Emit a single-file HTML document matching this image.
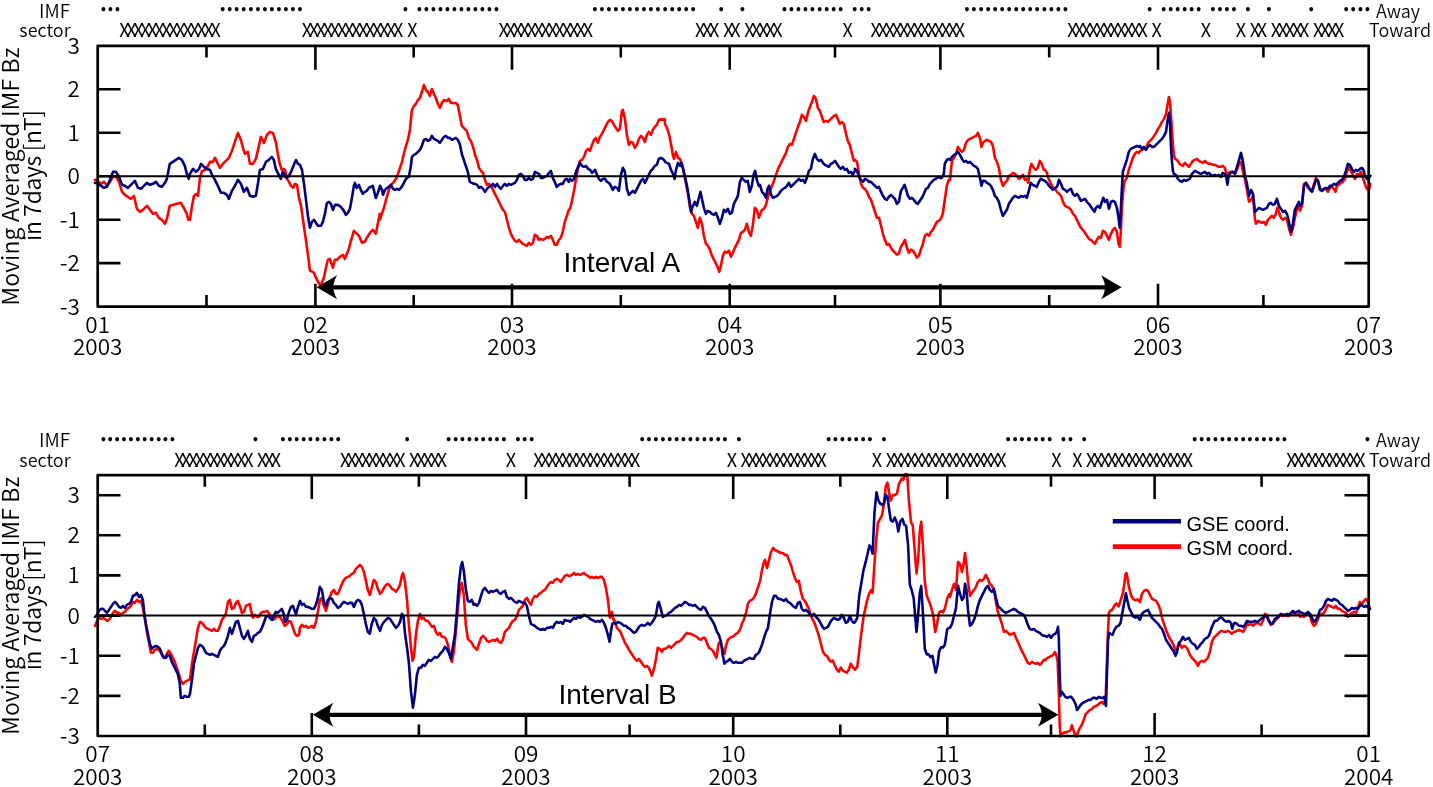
<!DOCTYPE html>
<html><head><meta charset="utf-8"><title>IMF Bz</title>
<style>html,body{margin:0;padding:0;background:#fff;width:1433px;height:787px;overflow:hidden}svg{display:block}</style>
</head><body>
<svg width="1433" height="787" viewBox="0 0 1433 787">
<rect width="1433" height="787" fill="#fff"/>
<path d="M95,179.8 98,180.8 101,183.8 104,181.8 107,185.8 110,181.8 113,176.8 116,176.8 119,181.8 122,191.8 124.9,194.8 127.9,196.8 130.9,198.8 133.9,195.8 136.9,208.8 139.9,211.8 142.9,209.8 146.9,205.8 149.9,209.8 152.9,213.8 155.9,212.8 158.9,217.8 161.9,219.8 164.9,223.8 166.9,218.8 169.8,205.8 173.8,204.8 176.8,203.8 180.8,202.8 183.8,207.8 186.8,213.8 188.4,219.8 190,219.8 192,205.8 194,195.8 196,193.8 198,195.8 200,177.8 202,170.9 205,169.9 208,165.9 210,161.9 212.9,161.9 214.9,157.9 216.9,161.9 219.9,167.9 222.9,163.9 225.9,160.9 228.9,157.9 231.9,150.9 234.9,141.9 237.9,132.9 240.9,139.9 242.9,147.9 244.9,153.9 247.9,151.9 249.9,163.9 252.9,163.9 255.9,158.9 258.9,145.9 260.9,136.9 263.9,142.9 266.9,134.9 269.8,131.9 272.8,132.9 275.8,141.9 277.8,153.9 279.8,163.9 281.8,169.9 283.8,168.9 285,169.9 287,178.9 289,181.9 291,185.9 293,187.9 295,183.9 297,184.9 299,197.9 301,205.9 303,219.8 305,233.8 307,247.8 308.9,261.8 309.9,270.7 311.9,271.7 313.9,272.7 315.9,277.7 317.9,281.7 319.9,284.7 321.9,282.7 323.9,277.7 325.9,267.7 327.9,259.8 329.9,258.8 331.9,264.8 332.9,267.7 334.9,259.8 336.9,259.8 339.9,256.8 342.9,254.8 344.9,258.8 346.9,253.8 348.9,248.8 350.9,240.8 353.9,230.8 355.9,232.8 358.9,235.8 361.9,242.8 364.8,241.8 366.8,237.8 368.8,234.8 370.8,231.8 372.8,229.8 375.8,233.8 377.8,223.8 379.8,213.8 380,219.7 382,213.7 384,207.7 386,199.8 388,192.8 390,185.8 392,183.8 394,181.8 396,178.8 398,173.8 400,167.8 402,161.8 403.9,153.8 405.9,145.9 407.9,139.9 409.9,129.9 411.9,109.9 413.9,106 415.9,104 417.9,100 419.9,98 421.9,92 423.9,85 425.9,90 427.9,92 429.9,96 431.9,89 433.9,94 435.9,98 437.9,104 439.9,107.9 441.9,103 443.9,100 446.9,101 448.9,99 450.9,103 453.9,103 455.9,103 457.8,105 459.8,114.9 461.8,125.9 463.8,127.9 466.8,130.9 468.8,137.9 470.8,140.9 472.8,145.9 474.8,153.8 475,154.9 477,159.9 479,167.9 481,170.9 483,172.9 485,179.9 487,184.9 489,183.9 491,185.9 493,189.9 495,193.8 497,197.8 498.9,201.8 500.9,205.8 502.9,209.8 504.9,211.8 506.9,219.8 508.9,227.8 510.9,233.8 512.9,237.8 514.9,240.8 516.9,241.8 518.9,239.8 520.9,241.8 522.9,243.8 524.9,244.8 526.9,245.8 528.9,242.8 530.9,244.8 532.9,242.8 534.9,234.8 536.9,235.8 538.9,239.8 540.9,238.8 542.9,239.8 544.9,238.8 546.9,236.8 548.9,237.8 550.9,235.8 552.8,239.8 554.8,244.8 556.8,244.8 558.8,239.8 560.8,237.8 562.8,231.8 564.8,221.8 566.8,215.8 568.8,209.8 570,208.8 572,200.8 574,190.8 576,178.8 578,168.8 580,160.9 582,159.9 584,156.9 586,150.9 588,148.9 590,150.9 592,144.9 594,139.9 596,137.9 597.9,142.9 599.9,136.9 601.9,133.9 603.9,129.9 605.9,125.9 607.9,122 609.9,120 611.9,121 613.9,124.9 615.9,127.9 617.9,130.9 619.9,128.9 621.9,111 622.9,110 624.9,119 626.9,134.9 628.9,144.9 630.9,141.9 632.9,142.9 634.9,147.9 636.9,144.9 638.9,138.9 640.9,135.9 642.9,137.9 644.9,141.9 646.9,134.9 648.8,131.9 650.8,134.9 652.8,129.9 654.8,126.9 656.8,124.9 658.8,120 660.8,119 662.8,120 664.8,119 665,124 667,128 669,134 671,143.9 673,155.9 674,158.9 676,151.9 678,157.9 680,158.9 682,163.9 684,173.9 686,183.9 688,193.8 690,207.8 692,213.8 693.9,215.8 695.9,221.8 697.9,227.8 699.9,217.8 701.9,223.8 703.9,235.8 705.9,243.8 707.9,245.8 709.9,249.7 711.9,255.7 713.9,259.7 715.9,263.7 717.9,267.7 719.3,271.7 720.9,265.7 722.9,255.7 724.9,251.7 726.9,252.7 728.9,250.7 730.9,256.7 732.9,252.7 734.9,247.7 736.9,243.8 738.9,239.8 740.9,232.8 742.8,231.8 744.8,229.8 746.8,223.8 748.8,231.8 750.8,235.8 752.8,225.8 754.8,207.8 756.8,209.8 758.8,217.8 760,214.7 762,209.8 764,208.8 766,204.8 768,196.8 770,190.8 772,185.8 774,180.8 776,174.8 778,168.8 780,164.8 782,160.8 784,156.9 786,152.9 787.9,146.9 789.9,143.9 791.9,144.9 793.9,138.9 795.9,132.9 797.9,126.9 799.9,121.9 801.9,114.9 803.9,116.9 805.9,120.9 807.9,112.9 809.9,107 811.9,102 813.9,96 815.9,99 817.9,108 819.9,111 821.9,116.9 823.9,121.9 825.9,120.9 827.9,121.9 829.9,119.9 831.9,117.9 833.9,115.9 835.9,114.9 837.8,118.9 839.8,123.9 841.8,121.9 843.8,123.9 845.8,132.9 847.8,140.9 849.8,144.9 851.8,152.9 853.8,160.8 855,159.9 857,161.9 859,173.9 861,183.9 863,187.9 865,188.9 867,191.9 869,196.8 871,199.8 873,205.8 875,211.8 877,217.8 879,217.8 881,225.8 882.9,233.8 884.9,239.8 886.9,244.8 888.9,243.8 890.9,247.7 892.9,250.7 894.9,252.7 896.9,254.7 898.9,253.7 900.9,246.8 902.9,243.8 904.9,239.8 906.9,247.7 908.9,252.7 910.9,249.7 912.9,250.7 914.9,253.7 916.9,257.7 918.9,255.7 920.9,249.7 922.9,243.8 924.9,235.8 926.9,233.8 928.9,235.8 930.9,231.8 932.8,229.8 934.8,225.8 936.8,221.8 938.8,220.8 940.8,218.8 942.8,213.8 944.8,199.8 946.8,185.9 948.8,179.9 950,179.9 951,169.9 952,160.9 954,157.9 956,153.9 958,146.9 960,149.9 962,151.9 964,149.9 966,142.9 968,139.9 970,138.9 972,137.9 974,136.9 976,135.9 977.9,132.9 979.9,137.9 981.5,146.9 982.9,142.9 984.9,140.9 986.9,139.9 988.9,140.9 990.9,141.9 992.9,145.9 994.9,157.9 996.9,161.9 998.9,167.9 1000.9,179.9 1002.9,185.8 1004.9,182.8 1006.9,180.9 1008.9,175.9 1010.9,174.9 1012.9,172.9 1014.9,173.9 1016.9,175.9 1018.9,178.9 1020.9,177.9 1022.9,174.9 1024.8,179.9 1026.8,178.9 1028.2,182.8 1029.8,169.9 1031.4,163.9 1033.8,167.9 1035.8,169.9 1037.8,167.9 1039.8,160.9 1041.8,163.9 1043.8,169.9 1045,169.9 1047,172.9 1049,179.9 1051,183.9 1053,187.9 1055,188.9 1057,191.9 1059,193.8 1061,195.8 1063,201.8 1065,205.8 1067,206.8 1069,207.8 1071,209.8 1072.9,213.8 1074.9,215.8 1076.9,219.8 1078.9,223.8 1080.9,227.8 1082.9,229.8 1084.9,232.8 1086.9,235.8 1088.9,238.8 1090.9,239.8 1092.9,241.8 1094.9,243.8 1096.9,239.8 1098.9,236.8 1100.9,237.8 1102.9,230.8 1104.9,231.8 1106.9,235.8 1108.9,239.8 1110.9,233.8 1112.9,229.8 1114.9,227.8 1116.9,231.8 1118.5,243.8 1119.8,246.8 1120.8,231.8 1121.8,209.8 1122.8,195.8 1123.8,185.9 1124.8,180.9 1126.8,177.9 1128.8,169.9 1130.8,163.9 1132.8,157.9 1134.8,153.9 1136.8,151.9 1138.8,152.9 1140,150.9 1142,149.9 1144,148.9 1146,148.9 1148,142.9 1150,140.9 1152,138.9 1154,135.9 1156,132.9 1158,128.9 1160,125.9 1162,121.9 1164,118.9 1166,113.9 1167.5,105 1168.9,97 1169.9,101 1170.9,114.9 1171.9,128.9 1172.9,144.9 1173.9,154.9 1174.9,158.8 1176.9,159.8 1178.9,162.8 1180.9,164.8 1182.9,165.8 1184.9,162.8 1186.9,164.8 1188.9,166.8 1190.9,163.8 1192.9,160.8 1194.9,159.8 1196.9,158.8 1198.9,160.8 1200.9,161.8 1202.9,162.8 1204.9,160.8 1206.9,162.8 1208.9,163.8 1210.9,163.8 1212.8,164.8 1214.8,164.8 1216.8,165.8 1218.8,166.8 1220.8,166.8 1222.8,165.8 1224.8,167.8 1226.8,174.8 1228.8,172.8 1230.8,171.8 1232.8,171.8 1234.8,172.8 1235,173.9 1237,169.9 1239,163.9 1241,161.9 1243,171.9 1245,179.9 1247,189.9 1249,201.8 1251,199.8 1253,195.8 1255,219.8 1256,223.8 1258,220.8 1260,221.8 1262,222.8 1263.9,221.8 1265.9,224.8 1267.9,219.8 1269.9,217.8 1271.9,215.8 1273.9,217.8 1275.9,213.8 1277.3,207.8 1278.9,211.8 1280.9,217.8 1282.9,219.8 1284.9,217.8 1286.9,219.8 1288.9,227.8 1290.9,234.8 1292.9,227.8 1294.9,217.8 1296.9,209.8 1298.9,203.8 1300,210.8 1302,205.8 1304,183.9 1306,182.9 1308,187.9 1310,188.9 1312,190.9 1314,183.9 1316,177.9 1318,180.9 1320,187.9 1322,190.9 1324,188.9 1326,188.9 1327.9,191.9 1329.9,187.9 1331.9,186.9 1333.9,188.9 1335.5,191.9 1336.9,185.9 1338.9,184.9 1340.9,182.9 1342.9,181.9 1344.9,178.9 1346.9,171.9 1348.9,166.9 1350.9,170.9 1352.9,174.9 1354.9,178.9 1356.9,173.9 1358.9,174.9 1360.9,171.9 1362.9,177.9 1364.9,183.9 1366.9,188.9 1368.9,189.9 1370.3,183.9" fill="none" stroke="#ff0000" stroke-width="2.6" stroke-linejoin="round" stroke-linecap="round"/>
<path d="M95,182.8 98,183.8 101,185.8 104,187.8 107,186.8 110,179.8 113,171.9 116,171.9 119,176.8 122,184.8 124.9,185.8 127.9,187.8 130.9,184.8 134.9,180.8 137.9,187.8 140.9,188.8 143.9,185.8 146.9,182.8 149.9,184.8 152.9,183.8 155.9,181.8 158.9,185.8 161.9,186.8 164.9,182.8 166.9,178.8 169.8,163.9 172.8,161.9 175.8,159.9 178.8,157.9 181.8,159.9 184.8,165.9 186.8,173.8 188.8,178.8 190,173.8 193,168.9 196,171.9 199,168.9 201,163.9 204,166.9 207,168.9 210,169.9 212,174.8 214.9,179.8 217.9,185.8 220.9,192.8 223.9,192.8 226.9,194.8 228.9,198.8 231.9,190.8 234.9,185.8 237.9,179.8 240.9,183.8 243.9,191.8 246.9,187.8 249.9,195.8 252.9,196.8 255.9,195.8 257.9,183.8 259.9,169.9 262.9,168.9 265.9,161.9 268.8,159.9 271.8,156.9 273.8,159.9 275.8,168.9 278.8,174.8 280.8,178.8 282.8,171.9 284.8,174.8 285,176.9 287,177.9 289,175.9 291,171.9 293,166.9 295,162 296,160 298,163.9 300,164.9 302,169.9 304,183.9 306,199.9 307.9,215.8 309.9,227.8 311.9,221.8 313.9,219.8 315.9,222.8 317.9,225.8 320.9,225.8 322.9,221.8 324.9,213.8 326.9,202.9 328.9,201.9 330.9,203.9 332.9,209.9 334.9,204.9 337.9,204.9 340.9,206.9 343.9,210.9 345.9,214.8 347.9,212.8 349.9,208.9 351.9,197.9 353.9,185.9 354.9,182.9 356.9,187.9 358.9,184.9 360.9,189.9 362.8,193.9 364.8,191.9 366.8,190.9 368.8,187.9 370.8,186.9 372.8,185.9 374.8,193.9 375.8,197.9 377.8,192.9 379.8,186.9 380,185.8 382,189.8 383,194.8 385,189.8 387,187.8 389,186.8 391,184.8 393,188.8 395,189.8 397,188.8 399,189.8 401,187.8 402.9,184.8 404.9,180.8 406.9,177.8 408.9,176.8 410.9,165.8 411.9,156.8 413.9,154.8 415.9,153.8 417.9,151.9 419.9,149.9 421.9,145.9 423.9,139.9 425.9,138.9 427.9,140.9 429.9,139.9 431.9,135.9 433.9,138.9 435.9,139.9 437.9,140.9 439.9,142.9 441.9,139.9 443.9,136.9 445.9,135.9 447.9,137.9 449.9,137.9 451.9,139.9 453.9,138.9 455.9,137.9 457.8,139.9 459.8,143.9 461.8,153.8 463.8,159.8 465.8,165.8 467.8,171.8 469.8,181.8 471.8,182.8 473.8,183.8 475,183.9 477,184.9 479,187.9 481,186.9 483,188.9 485,191.9 487,188.9 489,186.9 491,185.9 493,183.9 495,186.9 497,183.9 498.9,186.9 500.9,188.9 502.9,185.9 504.9,183.9 506.9,185.9 508.9,183.9 510.9,184.9 512.9,183.9 514.9,182.9 516.9,179.9 518.9,174.9 520.9,173.9 522.9,175.9 524.9,179.9 526.9,179.9 528.9,177.9 530.9,179.9 532.9,178.9 534.9,171.9 536.9,172.9 538.9,173.9 540.9,177.9 542.9,177.9 544.9,176.9 546.9,175.9 548.9,172.9 550.9,170.9 552.8,177.9 554.8,181.9 556.8,186.9 558.8,184.9 560.8,183.9 562.8,183.9 564.8,179.9 566.8,178.9 568.8,181.9 570,178.8 572,180.8 574,178.8 576,171.8 578,166.9 580,162.9 582,165.9 584,166.9 586,165.9 588,168.8 590,169.8 592,172.8 594,170.8 595,169.8 597,174.8 598.9,178.8 600.9,180.8 602.9,178.8 604.9,178.8 606.9,181.8 608.9,182.8 610.9,185.8 612.9,189.8 614.9,186.8 616.9,187.8 618.9,190.8 620.9,174.8 622.9,167.8 624.9,171.8 626.9,188.8 628.9,194.8 630.9,192.8 632.9,190.8 634.9,192.8 636.9,188.8 638.9,184.8 640.9,180.8 642.9,178.8 644.9,182.8 646.9,178.8 648.8,174.8 650.8,170.8 652.8,168.8 654.8,165.9 656.8,164.9 658.8,158.9 660.8,157.9 662.8,158.9 664.8,160.9 665,161.9 667,162.9 669,163.9 671,169.9 673,173.9 674.6,178.9 676,169.9 678,162.9 680,165.9 681,162.9 683,167.9 685,176.9 687,185.9 689,197.8 691,211.8 692.9,205.8 694.9,201.8 696.9,205.8 698.9,197.8 700.5,191.9 701.9,198.8 703.9,207.8 705.9,213.8 707.9,210.8 709.9,211.8 711.9,213.8 713.9,214.8 715.9,212.8 717.9,217.8 719.9,223.8 721.9,217.8 723.9,209.8 725.9,211.8 727.9,208.8 729.9,213.8 731.9,212.8 733.9,203.8 735.9,199.8 737.9,195.8 739.9,181.9 741.9,177.9 743.8,179.9 745.8,181.9 747.8,180.9 749.8,191.9 751.8,185.9 753.8,173.9 755.2,170.9 756.8,179.9 758.8,185.9 760,184.8 762,191.8 764,193.8 766,197.8 767.6,188.8 769,185.8 771,194.8 773,197.8 775,196.8 777,195.8 779,193.8 781,190.8 783,188.8 785,187.8 787,185.8 788.9,182.8 790.9,186.8 792.9,184.8 794.9,182.8 796.9,180.8 798.9,178.8 800.9,180.8 802.9,179.8 804.9,182.8 806.9,177.8 808.9,170.8 810.9,168.8 812.9,158.8 814.9,153.9 816.9,158.8 818.9,160.8 820.9,159.8 822.9,162.8 824.9,164.8 826.9,165.8 828.9,166.8 830.9,163.8 832.9,162.8 834.9,160.8 836.9,163.8 838.8,166.8 840.8,168.8 842.8,166.8 844.8,169.8 846.8,168.8 848.8,172.8 850.8,171.8 852.8,174.8 854.8,170.8 855,168.9 857,170.9 859,176.9 861,179.9 863,181.9 865,178.9 867,179.9 869,181.9 871,181.9 873,183.9 875,185.9 877,187.9 879,186.9 881,191.9 882.9,195.8 884.9,198.8 886.9,199.8 888.9,196.8 890.9,194.8 892.9,196.8 894.9,198.8 896.9,203.8 898.9,201.8 900.9,190.9 902.9,187.9 904.5,184.9 905.9,188.9 907.9,195.8 909.9,198.8 911.9,197.8 913.9,199.8 915.9,202.8 917.9,203.8 919.9,200.8 921.9,197.8 923.9,193.8 925.9,188.9 927.9,187.9 929.9,183.9 931.9,181.9 933.8,179.9 935.8,178.9 937.8,176.9 939.8,177.9 941.8,177.9 943.8,173.9 944.8,163.9 946.8,159.9 948.8,158.9 950,159.9 952,156.9 954,154.9 956,153.9 958,151.9 960,154.9 962,158.9 964,161.9 966,160.9 968,162.9 970,161.9 972,163.9 974,165.9 976,166.9 977.9,168.9 979.9,177.9 981.5,185.8 982.9,180.9 984.9,180.9 986.9,182.8 988.9,183.8 990.9,185.8 992.9,189.8 994.9,195.8 996.9,197.8 998.9,201.8 1000.9,209.8 1002.9,215.8 1004.9,212.8 1006.9,209.8 1008.9,203.8 1010.9,200.8 1012.9,197.8 1014.9,195.8 1016.9,196.8 1018.9,197.8 1020.9,195.8 1022.9,196.8 1024.8,195.8 1026.8,197.8 1028.8,190.8 1030.8,182.8 1032.8,184.8 1034.8,185.8 1036.8,186.8 1038.8,181.9 1040.8,178.9 1042.8,179.9 1044.8,180.9 1045,180.9 1047,182.9 1049,185.9 1051,187.9 1053,189.9 1055,187.9 1057,186.9 1059,179.9 1061,183.9 1063,188.9 1065,189.9 1067,191.9 1069,189.9 1071,188.9 1072.9,193.8 1074.9,195.8 1076.9,193.8 1078.9,196.8 1080.9,200.8 1082.9,199.8 1084.9,198.8 1086.9,201.8 1088.9,203.8 1090.9,206.8 1092.9,209.8 1094.5,211.8 1095.9,207.8 1097.9,205.8 1099.9,207.8 1101.9,201.8 1103.3,197.8 1104.9,201.8 1106.9,199.8 1108.9,208.8 1110.9,201.8 1112.9,200.8 1114.9,201.8 1116.9,207.8 1118.5,217.8 1119.8,227.8 1120.8,209.8 1121.8,189.9 1122.8,171.9 1124.8,165.9 1126.8,159.9 1128.8,151.9 1130.8,148.9 1132.8,147.9 1134.8,146.9 1136.8,145.9 1138.8,146.9 1140,145.9 1142,148.9 1144,146.9 1146,149.9 1148,146.9 1150,144.9 1152,146.9 1154,146.9 1156,144.9 1158,142.9 1160,140.9 1162,138.9 1164,135.9 1166,131.9 1167.5,120.9 1168.9,112.9 1169.9,120.9 1170.9,144.9 1171.9,160.8 1172.9,170.8 1173.9,173.8 1175.9,174.8 1177.9,178.8 1179.9,180.8 1181.9,181.8 1183.9,179.8 1185.9,180.8 1187.9,179.8 1189.9,178.8 1191.5,174.8 1192.9,172.8 1194.9,170.8 1196.9,171.8 1198.9,172.8 1200.9,173.8 1202.9,172.8 1204.9,171.8 1206.9,173.8 1208.9,172.8 1210.9,174.8 1212.8,175.8 1214.8,174.8 1216.8,175.8 1218.8,174.8 1220.8,176.8 1222.8,172.8 1224.8,173.8 1226.2,176.8 1227.4,184.8 1228.8,174.8 1230.8,172.8 1232.8,171.8 1234.8,173.8 1235,172.9 1237,166.9 1239,159.9 1241,152.9 1243,161.9 1245,175.9 1247,183.9 1249,195.8 1251,189.9 1253,193.8 1255,211.8 1257,209.8 1259,207.8 1261,208.8 1262.9,209.8 1264.9,208.8 1266.9,207.8 1268.9,203.8 1270.9,202.8 1272.9,204.8 1274.9,203.8 1276.9,198.8 1278.9,205.8 1280.9,208.8 1282.9,211.8 1284.9,210.8 1286.9,213.8 1288.9,221.8 1290.9,231.8 1292.9,223.8 1294.9,209.8 1296.9,205.8 1298.9,201.8 1300,205.8 1302,203.8 1304,185.9 1306,182.9 1308,185.9 1310,189.9 1312,191.9 1314,185.9 1316,179.9 1318,180.9 1320,189.9 1322,190.9 1324,188.9 1326,187.9 1327.9,188.9 1329.9,185.9 1331.9,185.9 1333.9,183.9 1335.9,184.9 1337.9,182.9 1339.9,180.9 1341.9,179.9 1343.9,176.9 1345.9,170.9 1347.9,163.9 1349.9,164.9 1351.9,168.9 1353.9,171.9 1355.9,169.9 1357.9,170.9 1359.9,168.9 1361.9,167.9 1363.5,169.9 1364.9,175.9 1366.9,178.9 1368.9,177.9 1370.3,175.9" fill="none" stroke="#000080" stroke-width="2.6" stroke-linejoin="round" stroke-linecap="round"/>
<line x1="97.7" y1="176.2" x2="1368.7" y2="176.2" stroke="#000" stroke-width="2"/>
<path d="M97.7,263.1H120.5M1368.7,263.1H1344.5M97.7,219.7H120.5M1368.7,219.7H1344.5M97.7,176.2H120.5M1368.7,176.2H1344.5M97.7,132.7H120.5M1368.7,132.7H1344.5M97.7,89.3H120.5M1368.7,89.3H1344.5M206.5,45.8V57.4M206.5,306.6V295M315.4,45.8V69.7M315.4,306.6V283.7M413.7,45.8V57.4M413.7,306.6V295M512,45.8V69.7M512,306.6V283.7M620.8,45.8V57.4M620.8,306.6V295M729.7,45.8V69.7M729.7,306.6V283.7M835,45.8V57.4M835,306.6V295M940.4,45.8V69.7M940.4,306.6V283.7M1049.2,45.8V57.4M1049.2,306.6V295M1158,45.8V69.7M1158,306.6V283.7M1263.4,45.8V57.4M1263.4,306.6V295" fill="none" stroke="#000" stroke-width="2.6"/>
<rect x="97.7" y="45.8" width="1271" height="260.8" fill="none" stroke="#000" stroke-width="2.7" stroke-linejoin="round"/>
<text x="79.8" y="314.5" font-family="'Noto Sans CJK JP',sans-serif" font-weight="350" font-size="22.5" text-anchor="end">-3</text>
<text x="79.8" y="271" font-family="'Noto Sans CJK JP',sans-serif" font-weight="350" font-size="22.5" text-anchor="end">-2</text>
<text x="79.8" y="227.6" font-family="'Noto Sans CJK JP',sans-serif" font-weight="350" font-size="22.5" text-anchor="end">-1</text>
<text x="79.8" y="184.1" font-family="'Noto Sans CJK JP',sans-serif" font-weight="350" font-size="22.5" text-anchor="end">0</text>
<text x="79.8" y="140.6" font-family="'Noto Sans CJK JP',sans-serif" font-weight="350" font-size="22.5" text-anchor="end">1</text>
<text x="79.8" y="97.2" font-family="'Noto Sans CJK JP',sans-serif" font-weight="350" font-size="22.5" text-anchor="end">2</text>
<text x="79.8" y="53.7" font-family="'Noto Sans CJK JP',sans-serif" font-weight="350" font-size="22.5" text-anchor="end">3</text>
<text x="97.7" y="333.1" font-family="'Noto Sans CJK JP',sans-serif" font-weight="350" font-size="22.5" text-anchor="middle">01</text>
<text x="97.7" y="355.2" font-family="'Noto Sans CJK JP',sans-serif" font-weight="350" font-size="22.5" text-anchor="middle">2003</text>
<text x="315.4" y="333.1" font-family="'Noto Sans CJK JP',sans-serif" font-weight="350" font-size="22.5" text-anchor="middle">02</text>
<text x="315.4" y="355.2" font-family="'Noto Sans CJK JP',sans-serif" font-weight="350" font-size="22.5" text-anchor="middle">2003</text>
<text x="512" y="333.1" font-family="'Noto Sans CJK JP',sans-serif" font-weight="350" font-size="22.5" text-anchor="middle">03</text>
<text x="512" y="355.2" font-family="'Noto Sans CJK JP',sans-serif" font-weight="350" font-size="22.5" text-anchor="middle">2003</text>
<text x="729.7" y="333.1" font-family="'Noto Sans CJK JP',sans-serif" font-weight="350" font-size="22.5" text-anchor="middle">04</text>
<text x="729.7" y="355.2" font-family="'Noto Sans CJK JP',sans-serif" font-weight="350" font-size="22.5" text-anchor="middle">2003</text>
<text x="940.4" y="333.1" font-family="'Noto Sans CJK JP',sans-serif" font-weight="350" font-size="22.5" text-anchor="middle">05</text>
<text x="940.4" y="355.2" font-family="'Noto Sans CJK JP',sans-serif" font-weight="350" font-size="22.5" text-anchor="middle">2003</text>
<text x="1158" y="333.1" font-family="'Noto Sans CJK JP',sans-serif" font-weight="350" font-size="22.5" text-anchor="middle">06</text>
<text x="1158" y="355.2" font-family="'Noto Sans CJK JP',sans-serif" font-weight="350" font-size="22.5" text-anchor="middle">2003</text>
<text x="1368.7" y="333.1" font-family="'Noto Sans CJK JP',sans-serif" font-weight="350" font-size="22.5" text-anchor="middle">07</text>
<text x="1368.7" y="355.2" font-family="'Noto Sans CJK JP',sans-serif" font-weight="350" font-size="22.5" text-anchor="middle">2003</text>
<text y="14.4" x="103.3 110.3 117.3 222.7 229.7 236.7 243.7 250.8 257.8 264.8 271.8 278.9 285.9 292.9 299.9 405.3 419.3 426.3 433.3 440.4 447.4 454.4 461.4 468.4 475.5 482.5 489.5 496.5 594.8 601.9 608.9 615.9 622.9 630 637 644 651 658 665.1 672.1 679.1 686.1 693.2 721.2 742.3 784.4 791.5 798.5 805.5 812.5 819.6 826.6 833.6 840.6 854.7 861.7 868.7 967 974 981.1 988.1 995.1 1002.1 1009.2 1016.2 1023.2 1030.2 1037.2 1044.3 1051.3 1058.3 1065.3 1149.6 1163.6 1170.7 1177.7 1184.7 1191.7 1198.7 1212.8 1219.8 1226.8 1233.9 1247.9 1269 1311.1 1346.2 1353.2 1360.3 1367.3" font-family="'Noto Sans CJK JP',sans-serif" font-weight="350" font-size="16" text-anchor="middle">&#8226;&#8226;&#8226;&#8226;&#8226;&#8226;&#8226;&#8226;&#8226;&#8226;&#8226;&#8226;&#8226;&#8226;&#8226;&#8226;&#8226;&#8226;&#8226;&#8226;&#8226;&#8226;&#8226;&#8226;&#8226;&#8226;&#8226;&#8226;&#8226;&#8226;&#8226;&#8226;&#8226;&#8226;&#8226;&#8226;&#8226;&#8226;&#8226;&#8226;&#8226;&#8226;&#8226;&#8226;&#8226;&#8226;&#8226;&#8226;&#8226;&#8226;&#8226;&#8226;&#8226;&#8226;&#8226;&#8226;&#8226;&#8226;&#8226;&#8226;&#8226;&#8226;&#8226;&#8226;&#8226;&#8226;&#8226;&#8226;&#8226;&#8226;&#8226;&#8226;&#8226;&#8226;&#8226;&#8226;&#8226;&#8226;&#8226;&#8226;&#8226;&#8226;&#8226;&#8226;&#8226;&#8226;&#8226;&#8226;&#8226;&#8226;</text>
<text y="37.1" x="124.4 131.4 138.4 145.4 152.5 159.5 166.5 173.5 180.5 187.6 194.6 201.6 208.6 215.7 306.9 314 321 328 335 342.1 349.1 356.1 363.1 370.1 377.2 384.2 391.2 398.2 412.3 503.6 510.6 517.6 524.6 531.6 538.7 545.7 552.7 559.7 566.8 573.8 580.8 587.8 700.2 707.2 714.2 728.3 735.3 749.3 756.4 763.4 770.4 777.4 847.6 875.7 882.8 889.8 896.8 903.8 910.8 917.9 924.9 931.9 938.9 946 953 960 1072.3 1079.4 1086.4 1093.4 1100.4 1107.5 1114.5 1121.5 1128.5 1135.5 1142.6 1156.6 1205.8 1240.9 1254.9 1261.9 1276 1283 1290 1297.1 1304.1 1318.1 1325.1 1332.2 1339.2" font-family="'Noto Sans CJK JP',sans-serif" font-size="18" text-anchor="middle">XXXXXXXXXXXXXXXXXXXXXXXXXXXXXXXXXXXXXXXXXXXXXXXXXXXXXXXXXXXXXXXXXXXXXXXXXXXXXXXXXXXXXXXXXXX</text>
<text x="70" y="18" font-family="'Noto Sans CJK JP',sans-serif" font-weight="350" font-size="18" text-anchor="end" textLength="31" lengthAdjust="spacingAndGlyphs">IMF</text>
<text x="70.5" y="37.3" font-family="'Noto Sans CJK JP',sans-serif" font-weight="350" font-size="18" text-anchor="end">sector</text>
<text x="1376" y="17.8" font-family="'Noto Sans CJK JP',sans-serif" font-weight="350" font-size="18">Away</text>
<text x="1369" y="37" font-family="'Noto Sans CJK JP',sans-serif" font-weight="350" font-size="18">Toward</text>
<text transform="translate(19.1,176.5) rotate(-90)" font-family="'Noto Sans CJK JP',sans-serif" font-weight="350" font-size="23" text-anchor="middle" textLength="258" lengthAdjust="spacing">Moving Averaged IMF Bz</text>
<text transform="translate(41.2,175.5) rotate(-90)" font-family="'Noto Sans CJK JP',sans-serif" font-weight="350" font-size="23" text-anchor="middle" textLength="131" lengthAdjust="spacing">in 7days [nT]</text>
<path d="M95,625.9 97,620.9 99,617.9 101,618.9 103,617.9 105,618.9 107,620.9 109,619.9 111,616.9 113,612.9 115,610.9 117,612.9 119,612.9 121,614.9 122.9,612.9 124.9,611.9 126.9,608.9 128.9,607.9 130.9,605.9 132.9,601.9 134.9,602.9 136.9,599.9 138.9,601.9 140.9,600.9 142.9,607.9 144.9,619.9 146.9,631.9 148.9,641.9 150.9,652.8 152.9,652.8 154.9,649.8 156.9,648.8 158.9,649.8 160.9,652.8 162.9,656.8 164.9,657.8 166.9,653.8 168.8,650.8 170.8,653.8 172.8,657.8 174.8,661.8 176.8,667.8 178.8,673.8 180.8,680.8 182.8,683.8 184.8,681.8 186.8,680.8 188.8,679.8 190,679.7 192,663.8 194,651.8 196,639.8 198,627.8 200,621.8 202,622.8 204,625.8 206,627.8 208,628.8 210,629.8 212,630.8 213.9,628.8 215.9,630.8 217.9,630.8 219.9,625.8 221.9,619.8 223.9,616.9 225.9,613.9 227.9,601.9 229.9,599.9 231.9,608.9 233.9,607.9 235.9,602.9 237.9,600.9 239.9,605.9 241.9,612.9 243.9,611.9 245.9,605.9 247.9,604.9 249.9,603.9 250.9,609.9 252.9,617.8 254.9,614.9 256.9,616.9 258.9,616.9 260.9,612.9 262.9,611.9 264.9,611.9 266.9,610.9 268.8,612.9 270.8,616.9 272.8,619.8 274.8,618.8 276.8,615.9 278.8,616.9 280.8,617.8 282.8,621.8 284.8,625.8 285,625.8 287,623.8 289,620.8 291,621.8 293,627.8 295,633.8 297,635.8 299,634.8 300,627.8 302,624.8 304,626.8 306,625.8 307.9,627.8 309.9,626.8 311.9,625.8 313.9,627.8 315.9,621.8 317.9,611.8 319.9,599.9 321.9,597.9 323.9,605.9 325.9,610.8 327.9,603.9 329.9,596.9 331.9,591.9 333.9,589.9 335.9,593.9 337.9,593.9 339.9,588.9 341.9,583.9 343.9,579.9 345.9,577.9 347.9,576.9 349.9,575.9 351.9,573.9 353.9,572.9 355.9,568.9 357.9,566.9 359.9,564.9 361.9,566.9 363.8,571.9 365.8,579.9 367.8,589.9 369.8,594.9 371.8,587.9 373.8,579.9 375.8,581.9 377.8,588.9 379.8,592.9 380,593.9 382,591.9 384,587.9 386,584.9 388,583.9 390,585.9 392,588.9 394,589.9 396,591.9 398,588.9 400,584.9 402,575 402.9,573 404.9,581 406.9,598.9 408.9,624.9 410.9,646.8 412.5,660.8 413.9,656.8 415.9,634.8 417.9,620.9 419.9,613.9 421.9,618.9 423.9,617.9 425.9,620.9 427.9,620.9 429.9,623.9 431.9,626.9 433.9,625.9 435.9,631.9 437.9,634.8 439.9,632.8 441.9,636.8 443.9,636.8 445.9,638.8 447.9,644.8 449.9,654.8 451.9,661.8 453.9,650.8 455.9,630.9 457.8,608.9 459.8,590.9 461.8,582.9 463.8,594.9 465.8,624.9 467.8,638.8 469.8,640.8 471.8,642.8 473.8,646.8 475,647.8 477,649.8 479,643.8 481,637.8 483,635.8 485,637.8 487,640.8 489,641.8 491,640.8 493,639.8 495,640.8 497,638.8 498.9,641.8 500.9,642.8 502.9,639.8 504.9,631.8 506.9,629.8 508.9,627.8 510.9,623.8 512.9,620.8 514.9,619.8 516.9,615.9 518.9,609.9 520.9,607.9 522.9,605.9 524.9,599.9 526.9,597.9 528.9,601.9 530.9,604.9 532.9,598.9 534.9,595.9 536.9,596.9 538.9,593.9 540.9,592.9 542.9,590.9 544.9,589.9 546.9,586.9 548.9,583.9 550.9,581.9 552.8,582.9 554.8,579.9 556.8,578.9 558.8,579.9 560.8,581.9 562.8,578.9 564.8,575.9 566.8,574.9 568.8,575.9 570,575.9 572,574.9 574,572.9 576,574.9 578,573.9 580,574.9 582,573.9 584,572.9 586,574.9 588,575.9 590,577.9 592,576.9 594,577.9 596,576.9 597.9,577.9 599.9,576.9 601.9,576.9 603.9,579.9 605.9,587.9 607.9,599.9 609.9,617.8 610.9,613.9 611.9,611.9 612.9,617.8 614.9,621.8 616.9,627.8 618.9,629.8 620.9,632.8 622.9,637.8 624.9,642.8 626.9,645.8 628.9,649.8 630.9,652.8 632.9,655.8 634.9,658.8 636.9,660.8 638.9,658.8 640.9,661.8 642.9,664.8 644.9,666.8 646.9,665.8 648.8,667.7 650.8,672.7 651.8,675.7 653.8,669.7 655.8,659.8 657.8,647.8 659.8,648.8 661.8,651.8 663.8,648.8 665,648.8 667,647.8 669,645.8 671,647.8 673,645.8 675,643.8 677,641.8 679,641.8 681,639.8 683,637.8 685,634.8 687,632.8 689,633.8 691,633.8 692.9,634.8 694.9,635.8 696.9,636.8 698.9,638.8 700.9,639.8 702.9,637.8 704.9,637.8 706.9,642.8 708.9,647.8 710.9,648.8 712.9,650.8 714.9,654.8 716.5,657.8 717.9,647.8 718.9,642.8 720.9,643.8 722.9,649.8 724.5,653.8 725.9,645.8 727.9,639.8 729.9,637.8 731.9,636.8 733.9,635.8 735.9,633.8 737.9,632.8 739.9,629.8 741.9,623.8 743.8,619.8 745.8,613.9 747.8,603.9 749.8,600.9 751.8,599.9 753.8,597.9 755.8,593.9 757.8,587.9 759.8,581.9 760,581.9 762,569.9 764,561.9 765,559.9 767,567.9 769,559.9 771,552 773,548 775,550 777,551 779,552 781,553 783,553 785,555 787,555 788.9,559.9 790.9,564.9 792.9,571.9 794.9,577.9 796.9,581.9 798.9,580.9 800.9,591.9 802.9,598.9 804.9,600.9 806.9,604.9 808.9,608.8 810.9,615.8 812.9,619.8 814.9,623.8 816.9,629.8 818.9,635.8 820.9,643.8 822.9,651.8 824.9,654.8 826.9,655.8 828.9,659.7 830.9,661.7 832.9,660.7 834.9,665.7 836.9,669.7 838.8,671.7 840.8,667.7 842.8,670.7 844.8,671.7 846.8,672.7 848.8,669.7 850.8,663.7 852.8,667.7 854.8,668.7 855,669.7 857.2,666.9 859.2,651.6 861.1,634.8 863.4,618 865.6,606.9 867.6,598.5 869.5,592.9 871.2,590.1 872.6,592.9 874,570.6 876,542.6 877.9,523.1 880.1,518.9 882.1,514.7 884,503.5 885.7,486.8 887.4,482.6 889.1,492.4 890.8,500.7 892.7,495.1 894.7,495.1 896.9,493.7 898.9,484 900.5,481.2 901.9,478.4 903.3,479.8 905.3,474.2 907.2,474.2 908.9,500.7 910.9,521.7 912.8,525.9 914.5,548.2 916.5,573.4 918.1,559.4 919.8,531.5 921.2,521.7 922.9,545.4 924.8,581.7 926.8,595.7 929,601.3 931,606.9 933.2,615.2 935.2,632 937.1,623.6 939.1,612.5 941,611.1 943,612.5 944.9,608.3 947.2,598.5 949.1,594.3 950,596.9 952,589.9 954,583.9 956,589.9 958,562 960,564 962,571.9 963.6,564 965,553 966.4,564 968,581.9 970,595.9 972,592.9 974,589.9 976,586.9 977.9,581.9 979.9,579.9 981.9,580.9 983.9,578.9 985.9,574.9 987.9,578.9 989.9,583.9 991.9,585.9 993.9,589.9 995.9,601.9 997.9,611.9 999.9,617.8 1001.9,623.8 1003.9,631.8 1005.9,630.8 1007.9,632.8 1009.9,634.8 1011.9,633.8 1013.9,632.8 1015.9,637.8 1017.9,641.8 1019.9,646.8 1021.9,650.8 1023.9,654.8 1025.8,658.8 1027.8,662.8 1029.8,663.8 1031.8,661.8 1033.8,662.8 1035.8,663.8 1037.8,662.8 1039.8,664.8 1041.8,662.8 1043.8,659.8 1045,660.3 1047,658.2 1049.1,657.2 1051.1,656.2 1053.1,655.2 1054.8,652.1 1056.2,654.2 1057.6,661.3 1058.8,691.8 1059.6,722.3 1060.5,736.5 1062.3,733.5 1064.3,732.4 1066.3,732.4 1068.4,731.4 1070.4,730.4 1071.8,725.3 1073.5,730.4 1075.1,734.5 1076.5,736.5 1077.9,732.4 1079.5,728.4 1081.6,725.3 1083.6,720.2 1085.7,714.1 1087.7,712.1 1089.7,710.1 1091.8,709.1 1093.8,707 1095.8,706 1097.8,705 1099.9,703 1101.9,702 1103.9,704 1105.6,699.9 1107,661.3 1108,630.8 1109,612.5 1110.5,610.5 1112.5,609.5 1114.5,605.4 1116.5,603.4 1118.6,606.4 1120.6,600.3 1122.6,594.2 1124.3,584.1 1125.5,573.9 1126.5,573.1 1127.5,578 1128.7,586.1 1130,591.2 1131.4,596.3 1133.4,599.3 1135.5,600.3 1137.5,599.3 1139.5,601.3 1140,601.9 1142,593.9 1144,590.9 1146,589.9 1148,590.9 1150,594.9 1152,598.9 1154,599.9 1156,600.9 1158,603.9 1160,608.9 1162,617.8 1164,623.8 1166,629.8 1167.9,634.8 1169.9,638.8 1171.9,641.8 1173.9,645.8 1175.9,651.8 1177.9,645.8 1179.9,643.8 1181.9,647.8 1183.9,645.8 1185.9,646.8 1187.9,649.8 1189.9,654.8 1191.9,657.8 1193.9,659.8 1195.9,661.8 1197.9,665.8 1199.9,661.8 1201.9,660.8 1203.9,661.8 1205.9,659.8 1207.9,657.8 1209.9,651.8 1211.9,641.8 1213.8,637.8 1215.8,635.8 1217.8,633.8 1219.8,631.8 1221.8,630.8 1223.8,631.8 1225.8,631.8 1227.8,630.8 1229.8,631.8 1231.8,633.8 1233.8,631.8 1235,631.8 1237,630.8 1239,629.8 1241,630.8 1243,631.8 1245,628.8 1247,623.8 1249,624.8 1251,623.8 1253,625.8 1255,623.8 1257,622.8 1259,623.8 1261,624.8 1262.9,620.8 1264.9,613.9 1266.9,614.9 1268.9,620.8 1270.9,624.8 1272.9,623.8 1274.9,620.8 1276.9,618.8 1278.9,616.9 1280.9,614.9 1282.9,615.9 1284.9,614.9 1286.9,615.9 1288.9,615.9 1290.9,613.9 1292.9,612.9 1294.9,614.9 1296.9,614.9 1298.9,613.9 1300,616.9 1302,615.9 1304,616.9 1306,614.9 1308,613.9 1310,615.9 1312,622.8 1314,625.8 1316,623.8 1318,618.8 1320,614.9 1322,613.9 1324,612.9 1326,608.9 1327.9,604.9 1329.9,605.9 1331.9,606.9 1333.9,607.9 1335.9,605.9 1337.9,608.9 1339.9,608.9 1341.9,610.9 1343.9,611.9 1345.9,612.9 1347.9,616.9 1349.9,614.9 1351.9,612.9 1353.9,611.9 1355.9,612.9 1357.9,607.9 1359.9,601.9 1361.9,603.9 1363.9,600.9 1365.9,598.9 1367.9,601.9 1369.9,608.9" fill="none" stroke="#ff0000" stroke-width="2.6" stroke-linejoin="round" stroke-linecap="round"/>
<path d="M95,616.9 97,614.9 99,610.9 101,608.9 103,608.9 105,610.9 107,612.9 109,609.9 111,606.9 113,603.9 115,601.9 117,603.9 119,606.9 121,607.9 122.9,605.9 124.9,607.9 126.9,604.9 128.9,603.9 130.9,601.9 132.9,596 134.9,595 136.9,593 138.9,597 140.9,595 142.9,599.9 143.9,609.9 145.9,623.9 147.9,633.9 149.9,643.9 151.9,648.8 153.9,646.9 155.9,645.9 157.9,646.9 159.9,648.8 161.9,653.8 163.9,657.8 165.9,657.8 167.8,654.8 169.8,655.8 171.8,661.8 173.8,665.8 175.8,669.8 177.8,673.8 179.8,683.8 180.8,697.7 182.8,697.7 184.8,695.8 186.8,696.8 188.8,696.8 190,693.7 192,679.7 194,663.8 196,655.8 198,647.8 200,644.8 202,645.8 204,648.8 206,652.8 208,653.8 210,654.8 212,653.8 213.9,654.8 215.9,655.8 217.9,656.8 219.9,650.8 221.9,647.8 223.9,645.8 225.9,641.8 227.9,635.8 229.9,627.8 231.9,633.8 233.9,627.8 235.9,621.8 237.9,620.8 239.9,627.8 241.9,635.8 243.9,638.8 245.9,635.8 247.9,630.8 249.9,638.8 251.9,641.8 253.9,635.8 255.9,634.8 257.9,632.8 259.9,631.8 261.9,627.8 263.9,622.8 265.9,616.9 267.8,615.9 269.8,617.8 271.8,619.8 273.8,615.9 275.8,611.9 277.8,612.9 279.8,610.9 281.8,608.9 283.8,613.9 285,621.8 287,619.8 289,611.8 291,606.9 293,605.9 295,611.8 296,613.8 298,606.9 300,600.9 302,604.9 304,603.9 306,606.9 307.9,606.9 309.9,607.8 311.9,608.8 313.9,608.8 315.9,604.9 317.9,597.9 319.9,586.9 321.9,589.9 323.9,601.9 325.9,605.9 327.9,599.9 329.9,597.9 331.9,598.9 333.9,602.9 335.9,604.9 337.9,607.8 339.9,606.9 341.9,603.9 343.9,601.9 345.9,602.9 347.9,603.9 349.9,602.9 351.9,602.9 353.9,606.9 355.9,601.9 357.9,599.9 359.9,600.9 361.9,604.9 363.8,613.8 365.8,623.8 367.8,631.8 369.8,633.8 371.8,623.8 373.8,617.8 375.8,619.8 377.8,625.8 379.8,629.8 380,630.9 382,624.9 384,621.9 386,619.9 388,617.9 390,618.9 392,621.9 394,624.9 396,627.9 398,625.9 400,621.9 402,613.9 403.6,616.9 404.9,632.8 406.9,646.8 408.9,662.8 410.9,690.7 412.9,707.7 414.9,694.7 416.9,674.8 418.9,667.8 420.9,667.8 422.9,664.8 424.9,665.8 426.9,662.8 428.9,659.8 430.9,660.8 432.9,658.8 434.9,656.8 436.9,657.8 438.9,655.8 440.9,652.8 442.9,650.8 444.9,646.8 446.9,648.8 448.9,652.8 450.9,658.8 452.9,646.8 454.9,634.8 456.9,610.9 458.8,584.9 460.8,567 462.2,562 463.8,571 465.8,588.9 467.8,600.9 469.8,601.9 471.8,599.9 473.8,604.9 475,603.9 477,605.9 479,602.9 481,595.9 483,589.9 485,587.9 487,590.9 489,592.9 491,590.9 493,591.9 495,590.9 497,589.9 498.9,592.9 500.9,593.9 502.9,591.9 504.9,590.9 506.9,596.9 508.9,598.9 510.9,597.9 512.9,599.9 514.9,601.9 516.9,602.9 518.9,600.9 520.9,601.9 522.9,602.9 524.9,602.9 526.9,605.9 528.9,615.9 530.9,623.8 532.9,624.8 534.9,625.8 536.9,627.8 538.9,628.8 540.9,629.8 542.9,628.8 544.9,629.8 546.9,627.8 548.9,627.8 550.9,626.8 552.8,627.8 554.8,623.8 556.8,621.8 558.8,622.8 560.8,621.8 562.8,623.8 564.8,619.8 566.8,620.8 568.8,620.8 570,621.8 572,619.8 574,617.8 576,618.8 578,616.9 580,617.8 582,616.9 584,614.9 586,615.9 588,616.9 590,618.8 592,619.8 594,620.8 596,621.8 597.9,620.8 599.9,621.8 601.9,619.8 603.9,622.8 605.9,627.8 607.9,634.8 609.5,641.8 610.9,631.8 612.3,623.8 613.9,622.8 615.9,623.8 617.9,621.8 619.9,622.8 621.9,623.8 623.9,625.8 625.9,625.8 627.9,627.8 629.9,628.8 631.9,630.8 633.9,632.8 635.9,631.8 637.9,628.8 639.9,625.8 641.9,624.8 643.9,625.8 645.9,624.8 647.8,622.8 649.8,624.8 651.8,622.8 653.8,619.8 655.8,615.9 657.8,603.9 658.8,601.9 660.8,608.9 662.8,616.9 664.8,615.9 665,615.9 667,614.9 669,612.9 671,611.9 673,609.9 675,607.9 677,606.9 679,604.9 681,605.9 683,603.9 685,601.9 687,602.9 689,604.9 691,604.9 692.9,605.9 694.9,604.9 696.9,606.9 698.9,608.9 700.9,609.9 702.9,606.9 704.9,607.9 706.9,611.9 708.9,615.9 710.9,618.8 712.9,621.8 714.9,625.8 716.9,631.8 718.9,634.8 720.9,641.8 722.9,655.8 724.5,663.8 725.9,661.8 727.9,660.8 729.9,658.8 731.9,661.8 733.9,662.8 735.9,661.8 737.9,662.8 739.9,662.8 741.9,662.8 743.8,660.8 745.8,659.8 747.8,658.8 749.8,657.8 751.8,658.8 753.8,658.8 755.8,654.8 757.8,653.8 759.8,650.8 760,649.8 762,644.8 764,637.8 766,631.8 768,627.8 770,613.8 772,601.9 774,595.9 776,595.9 778,598.9 780,598.9 782,599.9 784,600.9 786,598.9 787.9,601.9 789.9,602.9 791.9,604.9 793.9,606.9 795.9,607.8 797.9,602.9 799.9,601.9 801.9,608.8 803.9,610.8 805.9,609.8 807.9,611.8 809.9,613.8 811.9,615.8 813.9,613.8 815.9,616.8 817.9,618.8 819.9,621.8 821.9,625.8 823.9,628.8 825.9,627.8 827.9,626.8 829.9,622.8 831.9,619.8 833.9,617.8 835.9,618.8 837.8,619.8 839.8,618.8 841.8,614.8 843.8,617.8 845.8,622.8 847.8,621.8 849.8,615.8 851.8,620.8 853.8,622.8 855,622.2 857.2,618 859.2,595.7 861.1,584.5 863.4,570.6 865.6,562.2 867.6,553.8 869.5,545.4 871.2,548.2 872.6,553.8 874.5,511.9 876.5,492.4 878.5,500.7 880.1,503.5 882.1,504.9 884,503.5 885.7,495.1 887.4,496.5 889.1,509.1 890.8,520.3 892.7,521.7 894.7,517.5 896.9,523.1 898.3,531.5 900.2,521.7 902.5,518.9 904.2,524.5 906.1,525.9 908.1,545.4 909.8,584.5 911.7,590.1 913.7,598.5 915.1,615.2 916.5,632 918.1,615.2 919.8,592.9 921.2,585.9 922.9,612.5 924.8,648.8 926.8,654.4 928.7,654.4 930.4,657.1 932.4,655.8 934,664.1 935.7,672.5 937.4,665.5 939.1,651.6 941,647.4 943,647.4 944.9,644.6 947.2,629.2 949.1,627.8 950,627.8 952,623.8 954,615.9 956,607.9 958,585.9 960,593.9 962,599.9 963.6,597.9 965,583.9 966.4,589.9 968,609.9 970,625.8 972,623.8 974,619.8 976,613.9 977.9,605.9 979.9,599.9 981.9,595.9 983.9,591.9 985.9,587.9 987.9,585.9 989.9,589.9 991.9,591.9 993.9,588.9 995.9,597.9 997.9,605.9 999.9,607.9 1001.9,609.9 1003.9,611.9 1005.9,612.9 1007.9,611.9 1009.9,610.9 1011.9,609.9 1013.9,608.9 1015.9,609.9 1017.9,611.9 1019.9,612.9 1021.9,613.9 1023.9,614.9 1025.8,618.8 1027.8,624.8 1029.8,628.8 1031.8,629.8 1033.8,628.8 1035.8,630.8 1037.8,631.8 1039.8,632.8 1041.8,634.8 1043.8,635.8 1045,635.9 1047,636.9 1049.1,634.9 1051.1,637.9 1053.1,634.9 1055.2,633.9 1056.8,631.8 1058,626.8 1058.8,636.9 1059.6,671.5 1060.5,695.9 1061.7,691.8 1063.3,693.8 1065.3,696.9 1067.4,697.9 1069.4,696.9 1071.4,696.9 1073.5,699.9 1075.5,704 1077.1,710.1 1078.5,708 1080.6,705 1082.6,703 1084.6,702 1086.7,700.9 1088.7,699.9 1090.7,699.9 1092.8,697.9 1094.8,697.9 1096.8,698.9 1098.9,696.9 1100.9,697.9 1102.9,697.9 1104.3,696.9 1106,706 1107,671.5 1108,641 1109,632.9 1110.5,633.9 1112.5,634.9 1114.5,629.8 1116.5,626.8 1118.6,625.7 1120.6,622.7 1122.2,613.5 1124.3,602.4 1125.9,593.2 1127.3,600.3 1129.3,608.5 1131.4,612.5 1133.4,616.6 1135.5,617.6 1137.5,616.6 1139.5,619.6 1140,619.8 1142,613.9 1144,611.9 1146,610.9 1148,609.9 1150,613.9 1152,617.8 1154,619.8 1156,621.8 1158,623.8 1160,626.8 1162,628.8 1164,633.8 1166,639.8 1167.9,642.8 1169.9,645.8 1171.9,648.8 1173.9,651.8 1175.5,655.8 1176.9,652.8 1178.9,642.8 1180.9,640.8 1182.9,636.8 1184.9,639.8 1186.9,638.8 1188.9,637.8 1190.9,641.8 1192.9,643.8 1194.9,644.8 1196.9,648.8 1198.9,646.8 1200.9,643.8 1202.9,641.8 1204.9,638.8 1206.9,637.8 1208.9,635.8 1210.9,629.8 1212.8,624.8 1214.8,620.8 1216.8,620.8 1218.8,618.8 1220.8,616.9 1222.8,618.8 1224.8,620.8 1226.8,621.8 1228.8,620.8 1230.8,622.8 1232.2,628.8 1233.8,623.8 1235,622.8 1237,623.8 1239,625.8 1241,625.8 1243,626.8 1245,624.8 1247,620.8 1249,621.8 1251,621.8 1253,621.8 1255,620.8 1257,621.8 1259,620.8 1261,618.8 1262.9,617.8 1264.9,615.9 1266.9,616.9 1268.9,620.8 1270.9,623.8 1272.9,622.8 1274.9,618.8 1276.9,617.8 1278.9,615.9 1280.9,613.9 1282.9,614.9 1284.9,614.9 1286.9,613.9 1288.9,614.9 1290.9,612.9 1292.9,610.9 1294.9,612.9 1296.9,611.9 1298.9,610.9 1300,611.9 1302,612.9 1304,613.9 1306,613.9 1308,611.9 1310,613.9 1312,617.8 1314,621.8 1316,619.8 1318,615.9 1320,609.9 1322,608.9 1324,605.9 1326,600.9 1327.9,598.9 1329.9,599.9 1331.9,600.9 1333.9,598.9 1335.9,599.9 1337.9,600.9 1339.9,603.9 1341.9,604.9 1343.9,606.9 1345.9,608.9 1347.9,610.9 1349.9,609.9 1351.9,607.9 1353.9,608.9 1355.9,607.9 1357.9,608.9 1359.9,605.9 1361.9,604.9 1363.9,606.9 1365.9,605.9 1367.9,606.9 1369.9,608.9" fill="none" stroke="#000080" stroke-width="2.6" stroke-linejoin="round" stroke-linecap="round"/>
<line x1="97.7" y1="615.6" x2="1368.7" y2="615.6" stroke="#000" stroke-width="2"/>
<path d="M97.7,695.9H120.5M1368.7,695.9H1344.5M97.7,655.7H120.5M1368.7,655.7H1344.5M97.7,615.6H120.5M1368.7,615.6H1344.5M97.7,575.4H120.5M1368.7,575.4H1344.5M97.7,535.3H120.5M1368.7,535.3H1344.5M97.7,495.2H120.5M1368.7,495.2H1344.5M204.8,475.1V486.7M204.8,736.0V724.4M311.8,475.1V499M311.8,736.0V713.1M418.9,475.1V486.7M418.9,736.0V724.4M526,475.1V499M526,736.0V713.1M629.6,475.1V486.7M629.6,736.0V724.4M733.2,475.1V499M733.2,736.0V713.1M840.3,475.1V486.7M840.3,736.0V724.4M947.3,475.1V499M947.3,736.0V713.1M1051,475.1V486.7M1051,736.0V724.4M1154.6,475.1V499M1154.6,736.0V713.1M1261.6,475.1V486.7M1261.6,736.0V724.4" fill="none" stroke="#000" stroke-width="2.6"/>
<rect x="97.7" y="475.1" width="1271" height="260.9" fill="none" stroke="#000" stroke-width="2.7" stroke-linejoin="round"/>
<text x="79.8" y="743.9" font-family="'Noto Sans CJK JP',sans-serif" font-weight="350" font-size="22.5" text-anchor="end">-3</text>
<text x="79.8" y="703.8" font-family="'Noto Sans CJK JP',sans-serif" font-weight="350" font-size="22.5" text-anchor="end">-2</text>
<text x="79.8" y="663.6" font-family="'Noto Sans CJK JP',sans-serif" font-weight="350" font-size="22.5" text-anchor="end">-1</text>
<text x="79.8" y="623.5" font-family="'Noto Sans CJK JP',sans-serif" font-weight="350" font-size="22.5" text-anchor="end">0</text>
<text x="79.8" y="583.3" font-family="'Noto Sans CJK JP',sans-serif" font-weight="350" font-size="22.5" text-anchor="end">1</text>
<text x="79.8" y="543.2" font-family="'Noto Sans CJK JP',sans-serif" font-weight="350" font-size="22.5" text-anchor="end">2</text>
<text x="79.8" y="503.1" font-family="'Noto Sans CJK JP',sans-serif" font-weight="350" font-size="22.5" text-anchor="end">3</text>
<text x="97.7" y="762.4" font-family="'Noto Sans CJK JP',sans-serif" font-weight="350" font-size="22.5" text-anchor="middle">07</text>
<text x="97.7" y="784.5" font-family="'Noto Sans CJK JP',sans-serif" font-weight="350" font-size="22.5" text-anchor="middle">2003</text>
<text x="311.8" y="762.4" font-family="'Noto Sans CJK JP',sans-serif" font-weight="350" font-size="22.5" text-anchor="middle">08</text>
<text x="311.8" y="784.5" font-family="'Noto Sans CJK JP',sans-serif" font-weight="350" font-size="22.5" text-anchor="middle">2003</text>
<text x="526" y="762.4" font-family="'Noto Sans CJK JP',sans-serif" font-weight="350" font-size="22.5" text-anchor="middle">09</text>
<text x="526" y="784.5" font-family="'Noto Sans CJK JP',sans-serif" font-weight="350" font-size="22.5" text-anchor="middle">2003</text>
<text x="733.2" y="762.4" font-family="'Noto Sans CJK JP',sans-serif" font-weight="350" font-size="22.5" text-anchor="middle">10</text>
<text x="733.2" y="784.5" font-family="'Noto Sans CJK JP',sans-serif" font-weight="350" font-size="22.5" text-anchor="middle">2003</text>
<text x="947.3" y="762.4" font-family="'Noto Sans CJK JP',sans-serif" font-weight="350" font-size="22.5" text-anchor="middle">11</text>
<text x="947.3" y="784.5" font-family="'Noto Sans CJK JP',sans-serif" font-weight="350" font-size="22.5" text-anchor="middle">2003</text>
<text x="1154.6" y="762.4" font-family="'Noto Sans CJK JP',sans-serif" font-weight="350" font-size="22.5" text-anchor="middle">12</text>
<text x="1154.6" y="784.5" font-family="'Noto Sans CJK JP',sans-serif" font-weight="350" font-size="22.5" text-anchor="middle">2003</text>
<text x="1368.7" y="762.4" font-family="'Noto Sans CJK JP',sans-serif" font-weight="350" font-size="22.5" text-anchor="middle">01</text>
<text x="1368.7" y="784.5" font-family="'Noto Sans CJK JP',sans-serif" font-weight="350" font-size="22.5" text-anchor="middle">2004</text>
<text y="444.4" x="103.3 110.2 117.1 124 130.9 137.8 144.7 151.7 158.6 165.5 172.4 255.3 282.9 289.8 296.7 303.6 310.5 317.4 324.3 331.3 338.2 407.2 448.7 455.6 462.5 469.4 476.3 483.2 490.1 497 503.9 517.8 524.7 531.6 642.1 649 655.9 662.8 669.7 676.6 683.5 690.4 697.4 704.3 711.2 718.1 725 738.8 828.6 835.5 842.4 849.3 856.2 863.1 870 883.9 1008.2 1015.1 1022 1028.9 1035.8 1042.7 1049.6 1063.5 1070.4 1084.2 1194.7 1201.6 1208.5 1215.4 1222.3 1229.2 1236.1 1243.1 1250 1256.9 1263.8 1270.7 1277.6 1284.5 1367.4" font-family="'Noto Sans CJK JP',sans-serif" font-weight="350" font-size="16" text-anchor="middle">&#8226;&#8226;&#8226;&#8226;&#8226;&#8226;&#8226;&#8226;&#8226;&#8226;&#8226;&#8226;&#8226;&#8226;&#8226;&#8226;&#8226;&#8226;&#8226;&#8226;&#8226;&#8226;&#8226;&#8226;&#8226;&#8226;&#8226;&#8226;&#8226;&#8226;&#8226;&#8226;&#8226;&#8226;&#8226;&#8226;&#8226;&#8226;&#8226;&#8226;&#8226;&#8226;&#8226;&#8226;&#8226;&#8226;&#8226;&#8226;&#8226;&#8226;&#8226;&#8226;&#8226;&#8226;&#8226;&#8226;&#8226;&#8226;&#8226;&#8226;&#8226;&#8226;&#8226;&#8226;&#8226;&#8226;&#8226;&#8226;&#8226;&#8226;&#8226;&#8226;&#8226;&#8226;&#8226;&#8226;&#8226;&#8226;&#8226;&#8226;&#8226;</text>
<text y="467.1" x="179.3 186.2 193.1 200 206.9 213.8 220.7 227.6 234.5 241.5 248.4 262.2 269.1 276 345.1 352 358.9 365.8 372.7 379.6 386.5 393.4 400.3 414.1 421.1 428 434.9 441.8 510.8 538.5 545.4 552.3 559.2 566.1 573 579.9 586.8 593.7 600.6 607.6 614.5 621.4 628.3 635.2 731.9 745.7 752.6 759.5 766.4 773.3 780.2 787.2 794.1 801 807.9 814.8 821.7 877 890.8 897.7 904.6 911.5 918.4 925.3 932.2 939.1 946 952.9 959.8 966.8 973.7 980.6 987.5 994.4 1001.3 1056.5 1077.3 1091.1 1098 1104.9 1111.8 1118.7 1125.6 1132.5 1139.4 1146.3 1153.3 1160.2 1167.1 1174 1180.9 1187.8 1291.4 1298.3 1305.2 1312.1 1319 1325.9 1332.9 1339.8 1346.7 1353.6 1360.5" font-family="'Noto Sans CJK JP',sans-serif" font-size="18" text-anchor="middle">XXXXXXXXXXXXXXXXXXXXXXXXXXXXXXXXXXXXXXXXXXXXXXXXXXXXXXXXXXXXXXXXXXXXXXXXXXXXXXXXXXXXXXXXXXXXXXXXXXXXXXX</text>
<text x="70" y="447.3" font-family="'Noto Sans CJK JP',sans-serif" font-weight="350" font-size="18" text-anchor="end" textLength="31" lengthAdjust="spacingAndGlyphs">IMF</text>
<text x="70.5" y="466.6" font-family="'Noto Sans CJK JP',sans-serif" font-weight="350" font-size="18" text-anchor="end">sector</text>
<text x="1376" y="447.3" font-family="'Noto Sans CJK JP',sans-serif" font-weight="350" font-size="18">Away</text>
<text x="1369" y="466.5" font-family="'Noto Sans CJK JP',sans-serif" font-weight="350" font-size="18">Toward</text>
<text transform="translate(19.1,605.8) rotate(-90)" font-family="'Noto Sans CJK JP',sans-serif" font-weight="350" font-size="23" text-anchor="middle" textLength="258" lengthAdjust="spacing">Moving Averaged IMF Bz</text>
<text transform="translate(41.2,604.8) rotate(-90)" font-family="'Noto Sans CJK JP',sans-serif" font-weight="350" font-size="23" text-anchor="middle" textLength="131" lengthAdjust="spacing">in 7days [nT]</text>
<line x1="332.5" y1="287.3" x2="1105.8" y2="287.3" stroke="#000" stroke-width="4.2"/><path d="M316.7,287.3L337.2,275.3Q333,282.3 333.5,287.3Q333,292.3 337.2,299.3Z" fill="#000"/><path d="M1121.6,287.3L1101.1,275.3Q1105.3,282.3 1104.8,287.3Q1105.3,292.3 1101.1,299.3Z" fill="#000"/>
<text x="563.5" y="271.9" font-family="'Liberation Sans',sans-serif" font-size="28">Interval A</text>
<line x1="328.7" y1="714.8" x2="1042.6" y2="714.8" stroke="#000" stroke-width="4.2"/><path d="M312.9,714.8L333.4,702.8Q329.2,709.8 329.7,714.8Q329.2,719.8 333.4,726.8Z" fill="#000"/><path d="M1058.4,714.8L1037.9,702.8Q1042.1,709.8 1041.6,714.8Q1042.1,719.8 1037.9,726.8Z" fill="#000"/>
<text x="558.5" y="704.1" font-family="'Liberation Sans',sans-serif" font-size="28">Interval B</text>
<line x1="1112.8" y1="521.3" x2="1181" y2="521.3" stroke="#000080" stroke-width="4.6"/>
<line x1="1112.8" y1="546.6" x2="1181" y2="546.6" stroke="#ff0000" stroke-width="4.6"/>
<text x="1186.5" y="530.5" font-family="'Liberation Sans',sans-serif" font-size="20">GSE coord.</text>
<text x="1186.5" y="555.2" font-family="'Liberation Sans',sans-serif" font-size="20">GSM coord.</text>
</svg>
</body></html>
